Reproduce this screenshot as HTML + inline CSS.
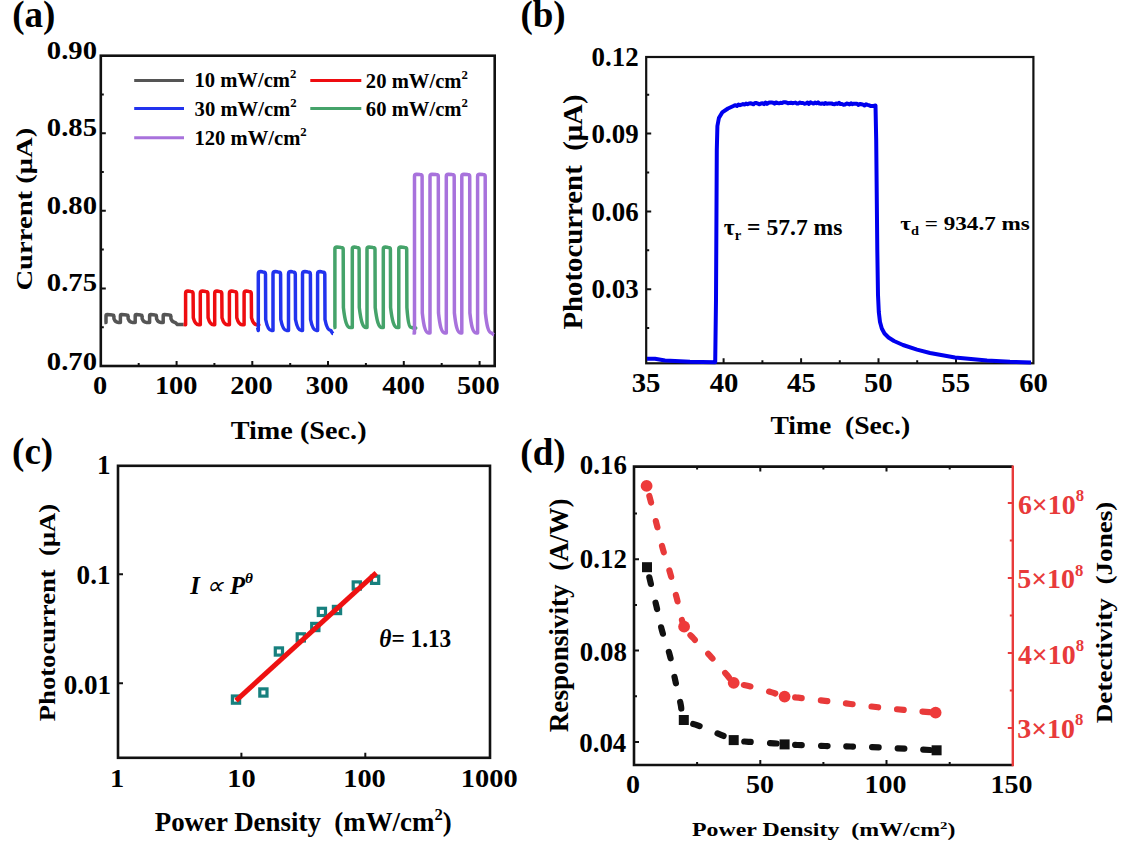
<!DOCTYPE html>
<html><head><meta charset="utf-8"><style>
html,body{margin:0;padding:0;background:#fff;}
svg{display:block;}
text{font-family:"Liberation Serif",serif;}
</style></head><body>
<svg width="1125" height="848" viewBox="0 0 1125 848">
<rect width="1125" height="848" fill="#fff"/>
<rect x="100.8" y="55.7" width="393.9" height="310.3" fill="none" stroke="#111" stroke-width="2.6"/>
<path d="M176.6,366.0v-5M252.3,366.0v-5M328.0,366.0v-5M403.8,366.0v-5M479.6,366.0v-5M138.7,366.0v-3M214.4,366.0v-3M290.2,366.0v-3M365.9,366.0v-3M441.7,366.0v-3" stroke="#111" stroke-width="2" fill="none"/>
<path d="M100.8,288.4h5M100.8,210.8h5M100.8,133.3h5M100.8,327.2h3M100.8,249.6h3M100.8,172.1h3M100.8,94.5h3" stroke="#111" stroke-width="2" fill="none"/>
<line x1="134.2" y1="80.4" x2="184" y2="80.4" stroke="#555555" stroke-width="3"/>
<line x1="134.2" y1="108.4" x2="184" y2="108.4" stroke="#2233ee" stroke-width="3"/>
<line x1="134.2" y1="137.7" x2="184" y2="137.7" stroke="#a872dc" stroke-width="3"/>
<line x1="310.3" y1="80.4" x2="361.3" y2="80.4" stroke="#ee0c10" stroke-width="3"/>
<line x1="310.3" y1="108.4" x2="361.3" y2="108.4" stroke="#45a36a" stroke-width="3"/>
<path d="M104.4,322.4L106.0,322.4L106.0,315.8Q106.0,314.6 107.2,314.6L112.6,315.0Q113.8,315.0 113.8,316.2L114.0,318.9C114.9,321.2 116.0,322.4 118.3,322.4L120.4,322.4L120.4,315.8Q120.4,314.6 121.6,314.6L126.8,315.0Q128.0,315.0 128.0,316.2L128.2,318.9C129.1,321.2 130.2,322.4 132.5,322.4L135.2,322.4L135.2,315.8Q135.2,314.6 136.4,314.6L140.8,315.0Q142.0,315.0 142.0,316.2L142.2,318.9C143.1,321.2 144.2,322.4 146.5,322.4L149.6,322.4L149.6,315.8Q149.6,314.6 150.8,314.6L155.2,315.0Q156.4,315.0 156.4,316.2L156.6,318.9C157.5,321.2 158.7,322.4 160.9,322.4L163.2,322.4L163.2,315.8Q163.2,314.6 164.4,314.6L169.6,315.0Q170.8,315.0 170.8,316.2L171.0,318.9C171.9,321.2 173.1,322.4 175.3,322.4L177.3,324.4L183.5,324.4" stroke="#555555" stroke-width="3.5" fill="none" stroke-linejoin="round"/>
<path d="M183.5,324.6L185.6,324.7L185.6,293.2Q185.6,291.0 187.8,291.0L190.9,291.4Q193.1,291.4 193.1,293.6L193.3,317.7C194.5,322.2 195.8,324.7 198.6,324.7L200.3,324.7L200.3,293.2Q200.3,291.0 202.5,291.0L205.7,291.4Q207.9,291.4 207.9,293.6L208.1,317.7C209.3,322.2 210.7,324.7 213.4,324.7L214.7,324.7L214.7,293.2Q214.7,291.0 216.9,291.0L219.6,291.4Q221.8,291.4 221.8,293.6L222.0,317.7C223.2,322.2 224.6,324.7 227.3,324.7L229.4,324.7L229.4,293.2Q229.4,291.0 231.6,291.0L234.4,291.4Q236.6,291.4 236.6,293.6L236.8,317.7C238.0,322.2 239.3,324.7 242.1,324.7L244.1,324.7L244.1,293.2Q244.1,291.0 246.3,291.0L249.1,291.4Q251.3,291.4 251.3,293.6L251.5,317.7C252.7,322.2 254.1,324.7 256.8,324.7L258.8,325.0L257.5,325.0" stroke="#ee0c10" stroke-width="3.5" fill="none" stroke-linejoin="round"/>
<path d="M257.6,327.5L258.3,330.5L258.3,273.9Q258.3,271.5 260.7,271.5L263.1,271.9Q265.5,271.9 265.5,274.3L265.7,319.5C267.0,326.6 268.5,330.5 271.5,330.5L273.0,330.5L273.0,273.9Q273.0,271.5 275.4,271.5L278.2,271.9Q280.6,271.9 280.6,274.3L280.8,319.5C282.1,326.6 283.6,330.5 286.6,330.5L288.5,330.5L288.5,273.9Q288.5,271.5 290.9,271.5L292.9,271.9Q295.3,271.9 295.3,274.3L295.5,319.5C296.8,326.6 298.3,330.5 301.3,330.5L302.5,330.5L302.5,273.9Q302.5,271.5 304.9,271.5L308.0,271.9Q310.4,271.9 310.4,274.3L310.6,319.5C311.9,326.6 313.4,330.5 316.4,330.5L317.6,330.5L317.6,273.9Q317.6,271.5 320.0,271.5L322.4,271.9Q324.8,271.9 324.8,274.3L325.0,319.5C326.3,326.6 327.8,330.5 330.8,330.5L332.8,333.6L333.0,333.6" stroke="#2233ee" stroke-width="3.5" fill="none" stroke-linejoin="round"/>
<path d="M333.5,327.6L334.9,327.6L334.9,249.0Q334.9,247.0 336.9,247.0L341.2,247.4Q343.2,247.4 343.2,249.4L343.4,307.6C344.9,320.6 346.7,327.6 350.2,327.6L352.3,327.6L352.3,249.0Q352.3,247.0 354.3,247.0L357.1,247.4Q359.1,247.4 359.1,249.4L359.3,307.6C360.9,320.6 362.6,327.6 366.1,327.6L367.0,327.6L367.0,249.0Q367.0,247.0 369.0,247.0L373.0,247.4Q375.0,247.4 375.0,249.4L375.2,307.6C376.8,320.6 378.5,327.6 382.0,327.6L383.3,327.6L383.3,249.0Q383.3,247.0 385.3,247.0L388.4,247.4Q390.4,247.4 390.4,249.4L390.6,307.6C392.1,320.6 393.9,327.6 397.4,327.6L398.8,327.6L398.8,249.0Q398.8,247.0 400.8,247.0L404.7,247.4Q406.7,247.4 406.7,249.4L406.9,307.6C407.9,320.6 409.1,327.6 411.4,327.6L415.7,328.0L412.0,328.0" stroke="#45a36a" stroke-width="3.5" fill="none" stroke-linejoin="round"/>
<path d="M412.5,332.8L414.5,333.0L414.5,176.2Q414.5,174.2 416.5,174.2L420.1,174.6Q422.1,174.6 422.1,176.6L422.3,313.0C423.7,326.0 425.4,333.0 428.6,333.0L430.0,333.0L430.0,176.2Q430.0,174.2 432.0,174.2L436.3,174.6Q438.3,174.6 438.3,176.6L438.5,313.0C439.9,326.0 441.6,333.0 444.8,333.0L446.3,333.0L446.3,176.2Q446.3,174.2 448.3,174.2L452.2,174.6Q454.2,174.6 454.2,176.6L454.4,313.0C455.8,326.0 457.4,333.0 460.7,333.0L461.8,333.0L461.8,176.2Q461.8,174.2 463.8,174.2L467.7,174.6Q469.7,174.6 469.7,176.6L469.9,313.0C471.3,326.0 472.9,333.0 476.2,333.0L477.6,333.0L477.6,176.2Q477.6,174.2 479.6,174.2L483.2,174.6Q485.2,174.6 485.2,176.6L485.4,313.0C486.8,326.0 488.4,333.0 491.7,333.0L493.7,334.8L494.0,334.8" stroke="#a872dc" stroke-width="3.5" fill="none" stroke-linejoin="round"/>
<rect x="646.2" y="57.0" width="387.2" height="306.3" fill="none" stroke="#111" stroke-width="2.2"/>
<path d="M723.6,363.3v-5M801.1,363.3v-5M878.5,363.3v-5M956.0,363.3v-5M684.9,363.3v-3M762.4,363.3v-3M839.8,363.3v-3M917.2,363.3v-3M994.7,363.3v-3" stroke="#111" stroke-width="2" fill="none"/>
<path d="M646.2,289.2h5M646.2,211.4h5M646.2,133.6h5M646.2,328.1h3M646.2,250.3h3M646.2,172.5h3M646.2,94.7h3" stroke="#111" stroke-width="2" fill="none"/>
<path d="M647.0,358.8 L655.0,358.8 L665.0,360.5 L690.0,361.8 L715.2,362.2 L716.0,300.0 L716.8,150.0 L717.4,126.0 L718.9,118.0 L722.2,112.4 L728.0,108.5 L734.0,105.7 L735.5,105.2 L737.0,105.9 L738.5,104.6 L740.0,105.2 L741.5,104.7 L743.0,104.0 L744.5,104.6 L746.0,103.6 L747.5,104.2 L749.0,103.4 L750.5,103.3 L752.0,103.7 L753.5,104.3 L755.0,102.9 L756.5,103.1 L758.0,103.7 L759.5,104.3 L761.0,103.5 L762.5,103.2 L764.0,104.2 L765.5,102.5 L767.0,103.9 L768.5,102.8 L770.0,102.5 L771.5,102.4 L773.0,102.7 L774.5,103.6 L776.0,102.4 L777.5,103.1 L779.0,103.3 L780.5,102.8 L782.0,103.1 L783.5,102.2 L785.0,102.2 L786.5,102.5 L788.0,103.3 L789.5,102.9 L791.0,102.7 L792.5,103.2 L794.0,102.9 L795.5,102.6 L797.0,103.5 L798.5,103.4 L800.0,102.5 L801.5,103.1 L803.0,103.0 L804.5,103.7 L806.0,103.4 L807.5,102.6 L809.0,103.9 L810.5,102.4 L812.0,103.0 L813.5,103.6 L815.0,102.5 L816.5,103.2 L818.0,102.4 L819.5,103.6 L821.0,103.8 L822.5,103.4 L824.0,104.0 L825.5,103.0 L827.0,103.7 L828.5,103.6 L830.0,103.6 L831.5,103.4 L833.0,104.1 L834.5,104.3 L836.0,103.5 L837.5,103.9 L839.0,102.9 L840.5,104.1 L842.0,104.0 L843.5,104.7 L845.0,104.5 L846.5,103.6 L848.0,103.8 L849.5,104.4 L851.0,103.3 L852.5,104.2 L854.0,103.7 L855.5,103.7 L857.0,103.7 L858.5,105.0 L860.0,103.9 L861.5,104.2 L863.0,104.6 L864.5,105.5 L866.0,104.2 L867.5,104.9 L869.0,105.2 L870.5,105.9 L872.0,105.9 L873.5,106.0 L875.5,105.5 L876.2,140.0 L877.3,250.0 L878.0,295.0 L878.8,312.0 L880.0,322.0 L881.8,328.5 L884.5,333.5 L888.5,337.5 L894.0,341.0 L903.0,345.0 L917.0,349.6 L930.0,353.0 L955.0,357.5 L987.0,360.6 L1010.0,361.8 L1031.0,362.4" stroke="#0000ee" stroke-width="4" fill="none" stroke-linejoin="round"/>
<rect x="118.0" y="465.8" width="372.0" height="292.0" fill="none" stroke="#111" stroke-width="2.6"/>
<path d="M241.4,757.8v-5M365.3,757.8v-5" stroke="#111" stroke-width="2" fill="none"/>
<path d="M118.0,574.2h5M118.0,683.2h5" stroke="#111" stroke-width="2" fill="none"/>
<rect x="232.4" y="696.0" width="7.2" height="7.2" fill="none" stroke="#17807e" stroke-width="3.2"/>
<rect x="259.8" y="688.9" width="7.2" height="7.2" fill="none" stroke="#17807e" stroke-width="3.2"/>
<rect x="275.3" y="647.9" width="7.2" height="7.2" fill="none" stroke="#17807e" stroke-width="3.2"/>
<rect x="297.2" y="633.8" width="7.2" height="7.2" fill="none" stroke="#17807e" stroke-width="3.2"/>
<rect x="311.7" y="623.4" width="7.2" height="7.2" fill="none" stroke="#17807e" stroke-width="3.2"/>
<rect x="318.3" y="608.3" width="7.2" height="7.2" fill="none" stroke="#17807e" stroke-width="3.2"/>
<rect x="333.4" y="606.4" width="7.2" height="7.2" fill="none" stroke="#17807e" stroke-width="3.2"/>
<rect x="353.2" y="581.9" width="7.2" height="7.2" fill="none" stroke="#17807e" stroke-width="3.2"/>
<rect x="371.5" y="576.2" width="7.2" height="7.2" fill="none" stroke="#17807e" stroke-width="3.2"/>
<line x1="236.0" y1="700.6" x2="376.2" y2="572.8" stroke="#ee1111" stroke-width="5"/>
<path d="M1012.8,466.6 H634.0 V765.0 H1012.8" fill="none" stroke="#111" stroke-width="2.6"/>
<line x1="1012.8" y1="465.40000000000003" x2="1012.8" y2="766.2" stroke="#e83a3a" stroke-width="2.4"/>
<path d="M760.3,765.0v-5M886.5,765.0v-5M697.1,765.0v-3M823.4,765.0v-3M949.7,765.0v-3" stroke="#111" stroke-width="2" fill="none"/>
<path d="M760.3,466.6v5M886.5,466.6v5M697.1,466.6v3M823.4,466.6v3M949.7,466.6v3" stroke="#111" stroke-width="2" fill="none"/>
<path d="M634.0,742.0h5M634.0,650.6h5M634.0,559.2h5M634.0,696.3h3M634.0,604.9h3M634.0,513.5h3" stroke="#111" stroke-width="2" fill="none"/>
<path d="M1012.8,728.0h-5M1012.8,653.0h-5M1012.8,578.0h-5M1012.8,503.0h-5M1012.8,690.5h-3M1012.8,615.5h-3M1012.8,540.5h-3" stroke="#e83a3a" stroke-width="2" fill="none"/>
<path d="M646.6,485.9C647.2,488.1 648.6,493.0 650.2,499.3C651.9,505.6 654.4,515.4 656.5,523.7C658.6,532.0 660.6,540.9 662.9,549.2C665.2,557.5 668.0,565.5 670.3,573.6C672.6,581.7 674.4,589.1 676.7,598.0C679.0,606.9 681.3,620.0 684.1,626.7" stroke="#e83a3a" stroke-width="6.2" fill="none" stroke-dasharray="6.6 19" stroke-dashoffset="14.9" stroke-linecap="round"/>
<path d="M684.1,626.7C686.9,633.4 688.9,633.1 693.4,638.2C697.9,643.3 705.8,651.1 711.4,657.3C717.0,663.5 723.6,671.1 727.3,675.4C731.0,679.6 730.2,681.0 733.7,682.8" stroke="#e83a3a" stroke-width="6.2" fill="none" stroke-dasharray="6.6 19" stroke-dashoffset="14.9" stroke-linecap="round"/>
<path d="M733.7,682.8C737.2,684.6 742.2,684.4 748.6,686.0C755.0,687.6 765.9,690.6 771.9,692.4C777.9,694.2 780.2,695.7 784.6,696.6" stroke="#e83a3a" stroke-width="6.2" fill="none" stroke-dasharray="6.6 19" stroke-dashoffset="14.9" stroke-linecap="round"/>
<path d="M784.6,696.6C789.0,697.5 791.7,697.0 798.4,697.7C805.1,698.4 816.3,699.8 825.0,700.8C833.7,701.8 841.3,702.9 850.5,704.0C859.7,705.1 870.1,706.4 880.0,707.5C889.9,708.6 900.7,709.6 910.0,710.5C919.3,711.4 931.3,712.3 935.6,712.7" stroke="#e83a3a" stroke-width="6.2" fill="none" stroke-dasharray="6.6 19" stroke-dashoffset="14.9" stroke-linecap="round"/>
<path d="M647.0,567.2C647.5,569.5 648.6,574.5 650.2,581.0C651.8,587.5 654.6,598.4 656.5,606.5C658.4,614.6 659.5,621.6 661.8,629.9C664.0,638.1 667.8,647.5 670.0,656.0C672.2,664.5 673.5,672.7 675.3,680.7C677.1,688.7 679.2,697.5 680.6,704.0C682.0,710.5 681.0,716.5 683.8,720.0" stroke="#111" stroke-width="6.2" fill="none" stroke-dasharray="6.6 19" stroke-dashoffset="14.9" stroke-linecap="round"/>
<path d="M683.8,720.0C686.6,723.5 691.4,722.8 697.6,725.3C703.8,727.8 715.0,732.3 721.0,734.8C727.0,737.3 729.1,738.9 733.7,740.1" stroke="#111" stroke-width="6.2" fill="none" stroke-dasharray="6.6 19" stroke-dashoffset="14.9" stroke-linecap="round"/>
<path d="M733.7,740.1C738.3,741.3 741.9,741.3 748.6,741.8C755.3,742.3 768.0,742.9 774.0,743.3C780.0,743.7 780.7,744.1 784.6,744.4" stroke="#111" stroke-width="6.2" fill="none" stroke-dasharray="6.6 19" stroke-dashoffset="14.9" stroke-linecap="round"/>
<path d="M784.6,744.4C788.5,744.7 790.7,744.7 797.4,745.0C804.1,745.3 816.1,745.8 825.0,746.0C833.9,746.2 841.3,746.2 850.5,746.5C859.7,746.8 870.1,747.1 880.0,747.5C889.9,747.9 900.6,748.5 910.0,749.0C919.4,749.5 932.2,750.1 936.6,750.3" stroke="#111" stroke-width="6.2" fill="none" stroke-dasharray="6.6 19" stroke-dashoffset="14.9" stroke-linecap="round"/>
<circle cx="646.6" cy="485.9" r="5.9" fill="#ee3a3a"/>
<circle cx="684.1" cy="626.7" r="5.9" fill="#ee3a3a"/>
<circle cx="733.7" cy="682.8" r="5.9" fill="#ee3a3a"/>
<circle cx="784.6" cy="696.6" r="5.9" fill="#ee3a3a"/>
<circle cx="935.6" cy="712.7" r="5.9" fill="#ee3a3a"/>
<rect x="642.0" y="562.2" width="10" height="10" fill="#111"/>
<rect x="678.8" y="715.0" width="10" height="10" fill="#111"/>
<rect x="728.7" y="735.1" width="10" height="10" fill="#111"/>
<rect x="779.6" y="739.4" width="10" height="10" fill="#111"/>
<rect x="931.6" y="745.3" width="10" height="10" fill="#111"/>
<g transform="matrix(1.0292,0,0,1.0281,12.14,27.25)"><text x="0" y="0" font-size="36" fill="#000" style="font-weight:bold;">(a)</text></g>
<g transform="matrix(1.1476,0,0,1.0329,46.85,58.53)"><text x="0" y="0" font-size="25" fill="#000" style="font-weight:bold;">0.90</text></g>
<g transform="matrix(1.1476,0,0,1.0329,46.85,135.58)"><text x="0" y="0" font-size="25" fill="#000" style="font-weight:bold;">0.85</text></g>
<g transform="matrix(1.1476,0,0,1.0329,46.85,213.93)"><text x="0" y="0" font-size="25" fill="#000" style="font-weight:bold;">0.80</text></g>
<g transform="matrix(1.1476,0,0,1.0329,46.85,291.28)"><text x="0" y="0" font-size="25" fill="#000" style="font-weight:bold;">0.75</text></g>
<g transform="matrix(1.1476,0,0,1.0329,46.85,369.68)"><text x="0" y="0" font-size="25" fill="#000" style="font-weight:bold;">0.70</text></g>
<g transform="matrix(1.1367,0,0,1.0294,92.91,393.50)"><text x="0" y="0" font-size="25" fill="#000" style="font-weight:bold;">0</text></g>
<g transform="matrix(1.1367,0,0,1.0294,154.88,393.50)"><text x="0" y="0" font-size="25" fill="#000" style="font-weight:bold;">100</text></g>
<g transform="matrix(1.1367,0,0,1.0294,230.15,393.50)"><text x="0" y="0" font-size="25" fill="#000" style="font-weight:bold;">200</text></g>
<g transform="matrix(1.1367,0,0,1.0294,305.75,393.50)"><text x="0" y="0" font-size="25" fill="#000" style="font-weight:bold;">300</text></g>
<g transform="matrix(1.1367,0,0,1.0294,382.32,393.50)"><text x="0" y="0" font-size="25" fill="#000" style="font-weight:bold;">400</text></g>
<g transform="matrix(1.1367,0,0,1.0294,457.10,393.50)"><text x="0" y="0" font-size="25" fill="#000" style="font-weight:bold;">500</text></g>
<g transform="matrix(1.0855,0,0,0.9870,230.70,439.07)"><text x="0" y="0" font-size="26" fill="#000" style="font-weight:bold;">Time (Sec.)</text></g>
<g transform="matrix(0.8792,0,0,1.1027,32.23,290.60)"><g transform="rotate(-90)"><text x="0" y="0" font-size="26" fill="#000" style="font-weight:bold;">Current (μA)</text></g></g>
<g transform="matrix(1.0312,0,0,1.0675,194.39,87.39)"><text x="0" y="0" font-size="20" fill="#000" style="font-weight:bold;">10 mW/cm<tspan dy="-8.40" font-size="12.40">2</tspan></text></g>
<g transform="matrix(1.0312,0,0,1.0675,194.61,115.69)"><text x="0" y="0" font-size="20" fill="#000" style="font-weight:bold;">30 mW/cm<tspan dy="-8.40" font-size="12.40">2</tspan></text></g>
<g transform="matrix(1.0312,0,0,1.0675,194.43,144.89)"><text x="0" y="0" font-size="20" fill="#000" style="font-weight:bold;">120 mW/cm<tspan dy="-8.40" font-size="12.40">2</tspan></text></g>
<g transform="matrix(1.0312,0,0,1.0675,365.86,87.74)"><text x="0" y="0" font-size="20" fill="#000" style="font-weight:bold;">20 mW/cm<tspan dy="-8.40" font-size="12.40">2</tspan></text></g>
<g transform="matrix(1.0312,0,0,1.0675,365.86,115.79)"><text x="0" y="0" font-size="20" fill="#000" style="font-weight:bold;">60 mW/cm<tspan dy="-8.40" font-size="12.40">2</tspan></text></g>
<g transform="matrix(1.0292,0,0,1.0281,520.41,26.95)"><text x="0" y="0" font-size="36" fill="#000" style="font-weight:bold;">(b)</text></g>
<g transform="matrix(1.0762,0,0,1.0721,591.52,65.76)"><text x="0" y="0" font-size="25" fill="#000" style="font-weight:bold;">0.12</text></g>
<g transform="matrix(1.0762,0,0,1.0721,591.52,143.26)"><text x="0" y="0" font-size="25" fill="#000" style="font-weight:bold;">0.09</text></g>
<g transform="matrix(1.0762,0,0,1.0721,591.52,221.11)"><text x="0" y="0" font-size="25" fill="#000" style="font-weight:bold;">0.06</text></g>
<g transform="matrix(1.0762,0,0,1.0721,591.52,298.36)"><text x="0" y="0" font-size="25" fill="#000" style="font-weight:bold;">0.03</text></g>
<g transform="matrix(1.1495,0,0,1.0588,631.73,392.00)"><text x="0" y="0" font-size="25" fill="#000" style="font-weight:bold;">35</text></g>
<g transform="matrix(1.1495,0,0,1.0588,709.71,392.00)"><text x="0" y="0" font-size="25" fill="#000" style="font-weight:bold;">40</text></g>
<g transform="matrix(1.1495,0,0,1.0588,787.11,392.00)"><text x="0" y="0" font-size="25" fill="#000" style="font-weight:bold;">45</text></g>
<g transform="matrix(1.1495,0,0,1.0588,863.93,392.00)"><text x="0" y="0" font-size="25" fill="#000" style="font-weight:bold;">50</text></g>
<g transform="matrix(1.1495,0,0,1.0588,941.33,392.00)"><text x="0" y="0" font-size="25" fill="#000" style="font-weight:bold;">55</text></g>
<g transform="matrix(1.1495,0,0,1.0588,1019.21,392.00)"><text x="0" y="0" font-size="25" fill="#000" style="font-weight:bold;">60</text></g>
<g transform="matrix(1.0626,0,0,0.9739,770.40,434.33)"><text x="0" y="0" font-size="26" fill="#000" style="font-weight:bold;">Time  (Sec.)</text></g>
<g transform="matrix(1.0708,0,0,1.1090,581.78,329.61)"><g transform="rotate(-90)"><text x="0" y="0" font-size="26" fill="#000" style="font-weight:bold;">Photocurrent  (μA)</text></g></g>
<g transform="matrix(1.0727,0,0,1.0400,723.80,234.56)"><text x="0" y="0" font-size="22" fill="#000" style="font-weight:bold;">τ<tspan dy="5.50" font-size="13.64">r</tspan><tspan dy="-5.50"> = 57.7 ms</tspan></text></g>
<g transform="matrix(1.0528,0,0,0.9000,900.30,230.20)"><text x="0" y="0" font-size="22" fill="#000" style="font-weight:bold;">τ<tspan dy="5.50" font-size="13.64">d</tspan><tspan dy="-5.50"> = 934.7 ms</tspan></text></g>
<g transform="matrix(1.0292,0,0,1.0281,12.07,464.45)"><text x="0" y="0" font-size="36" fill="#000" style="font-weight:bold;">(c)</text></g>
<g transform="matrix(1.0848,0,0,1.1265,96.91,474.07)"><text x="0" y="0" font-size="25" fill="#000" style="font-weight:bold;">1</text></g>
<g transform="matrix(1.0848,0,0,1.1265,76.59,584.38)"><text x="0" y="0" font-size="25" fill="#000" style="font-weight:bold;">0.1</text></g>
<g transform="matrix(1.0848,0,0,1.1265,63.63,693.53)"><text x="0" y="0" font-size="25" fill="#000" style="font-weight:bold;">0.01</text></g>
<g transform="matrix(1.1360,0,0,1.0412,109.95,787.20)"><text x="0" y="0" font-size="25" fill="#000" style="font-weight:bold;">1</text></g>
<g transform="matrix(1.1360,0,0,1.0412,227.23,787.20)"><text x="0" y="0" font-size="25" fill="#000" style="font-weight:bold;">10</text></g>
<g transform="matrix(1.1360,0,0,1.0412,343.20,787.20)"><text x="0" y="0" font-size="25" fill="#000" style="font-weight:bold;">100</text></g>
<g transform="matrix(1.1360,0,0,1.0412,460.83,787.20)"><text x="0" y="0" font-size="25" fill="#000" style="font-weight:bold;">1000</text></g>
<g transform="matrix(1.0357,0,0,1.0185,154.70,830.91)"><text x="0" y="0" font-size="26" fill="#000" style="font-weight:bold;">Power Density  (mW/cm<tspan dy="-10.92" font-size="16.12">2</tspan><tspan dy="10.92">)</tspan></text></g>
<g transform="matrix(0.9857,0,0,1.1103,54.57,721.21)"><g transform="rotate(-90)"><text x="0" y="0" font-size="24" fill="#000" style="font-weight:bold;">Photocurrent  (μA)</text></g></g>
<g transform="matrix(1.1196,0,0,1.1263,190.20,593.80)"><text x="0" y="0" font-size="22" fill="#000" style="font-weight:bold;font-style:italic;">I <tspan font-style="italic" font-weight="normal">∝</tspan> P<tspan dy="-9.24" font-size="13.64">θ</tspan></text></g>
<g transform="matrix(1.0588,0,0,1.1267,379.30,646.60)"><text x="0" y="0" font-size="22" fill="#000" style="font-weight:bold;"><tspan font-style="italic">θ</tspan>= 1.13</text></g>
<g transform="matrix(1.0292,0,0,1.0281,520.31,464.55)"><text x="0" y="0" font-size="36" fill="#000" style="font-weight:bold;">(d)</text></g>
<g transform="matrix(1.0770,0,0,1.0956,579.76,474.16)"><text x="0" y="0" font-size="25" fill="#000" style="font-weight:bold;">0.16</text></g>
<g transform="matrix(1.0770,0,0,1.0956,579.76,567.81)"><text x="0" y="0" font-size="25" fill="#000" style="font-weight:bold;">0.12</text></g>
<g transform="matrix(1.0770,0,0,1.0956,579.76,661.41)"><text x="0" y="0" font-size="25" fill="#000" style="font-weight:bold;">0.08</text></g>
<g transform="matrix(1.0770,0,0,1.0956,579.22,752.31)"><text x="0" y="0" font-size="25" fill="#000" style="font-weight:bold;">0.04</text></g>
<g transform="matrix(1.1211,0,0,1.0118,626.06,792.50)"><text x="0" y="0" font-size="25" fill="#000" style="font-weight:bold;">0</text></g>
<g transform="matrix(1.1211,0,0,1.0118,745.94,792.50)"><text x="0" y="0" font-size="25" fill="#000" style="font-weight:bold;">50</text></g>
<g transform="matrix(1.1211,0,0,1.0118,864.54,792.50)"><text x="0" y="0" font-size="25" fill="#000" style="font-weight:bold;">100</text></g>
<g transform="matrix(1.1211,0,0,1.0118,990.54,792.50)"><text x="0" y="0" font-size="25" fill="#000" style="font-weight:bold;">150</text></g>
<g transform="matrix(1.1941,0,0,0.8905,692.00,836.25)"><text x="0" y="0" font-size="20" fill="#000" style="font-weight:bold;">Power Density  (mW/cm<tspan dy="-8.40" font-size="12.40">2</tspan><tspan dy="8.40">)</tspan></text></g>
<g transform="matrix(1.1043,0,0,1.0869,568.08,732.29)"><g transform="rotate(-90)"><text x="0" y="0" font-size="25" fill="#000" style="font-weight:bold;">Responsivity  (A/W)</text></g></g>
<g transform="matrix(0.9565,0,0,1.0871,1112.22,723.29)"><g transform="rotate(-90)"><text x="0" y="0" font-size="25" fill="#000" style="font-weight:bold;">Detectivity  (Jones)</text></g></g>
<g transform="matrix(1.2700,0,0,1.2889,1017.88,514.00)"><text x="0" y="0" font-size="22" fill="#e83a3a" style="font-weight:bold;">6×10<tspan dy="-9.90" font-size="13.20">8</tspan></text></g>
<g transform="matrix(1.2700,0,0,1.2889,1017.24,588.30)"><text x="0" y="0" font-size="22" fill="#e83a3a" style="font-weight:bold;">5×10<tspan dy="-9.90" font-size="13.20">8</tspan></text></g>
<g transform="matrix(1.2700,0,0,1.2889,1017.88,664.10)"><text x="0" y="0" font-size="22" fill="#e83a3a" style="font-weight:bold;">4×10<tspan dy="-9.90" font-size="13.20">8</tspan></text></g>
<g transform="matrix(1.2700,0,0,1.2889,1017.24,738.00)"><text x="0" y="0" font-size="22" fill="#e83a3a" style="font-weight:bold;">3×10<tspan dy="-9.90" font-size="13.20">8</tspan></text></g>
</svg></body></html>
